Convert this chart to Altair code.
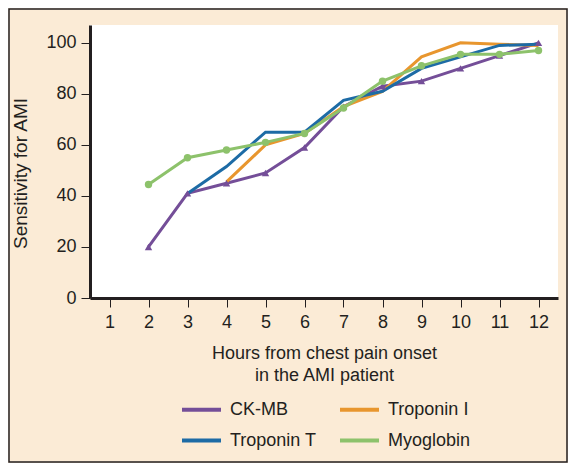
import altair as alt
import pandas as pd

hours = [1, 2, 3, 4, 5, 6, 7, 8, 9, 10, 11, 12]
ck_mb = [None, 20, 41, 45, 49, 59, 75, 83, 85, 90, 95, 100]
troponin_i = [None, None, None, 45.5, 60, 64.5, 75, 81, 94.5, 100, 99.5, 99]
troponin_t = [None, None, 41, 51.5, 65, 65, 77.5, 81, 90, 94.5, 99, 99.5]
myoglobin = [None, 44.5, 55, 58, 61, 64.5, 74.5, 85, 91, 95.5, 95.5, 97]

series_order = ["CK-MB", "Troponin I", "Troponin T", "Myoglobin"]
series_colors = ["#744E98", "#E8962E", "#1D6BA5", "#8DC26B"]

wide = pd.DataFrame({
    "hour": hours,
    "CK-MB": ck_mb,
    "Troponin I": troponin_i,
    "Troponin T": troponin_t,
    "Myoglobin": myoglobin,
})
data = wide.melt(id_vars="hour", var_name="series", value_name="value").dropna()

W, H = 468, 273
INK = "#231F20"
FONT = "Liberation Sans"

color_scale = alt.Scale(domain=series_order, range=series_colors)
x_enc = alt.X(
    "hour:Q",
    scale=alt.Scale(domain=[0.5, 12.5], nice=False),
    axis=alt.Axis(values=hours, title=["Hours from chest pain onset", "in the AMI patient"],
                  titlePadding=13, titleLineHeight=22, labelPadding=6),
)
y_enc = alt.Y(
    "value:Q",
    scale=alt.Scale(domain=[0, 107], nice=False),
    axis=alt.Axis(values=[0, 20, 40, 60, 80, 100], title="Sensitivity for AMI",
                  titleX=-60, titleY=148, titleFontSize=19, labelPadding=5),
)

lines = alt.Chart(data).mark_line(strokeWidth=3).encode(
    x=x_enc,
    y=y_enc,
    color=alt.Color(
        "series:N",
        scale=color_scale,
        sort=series_order,
        legend=alt.Legend(
            title=None, orient="none", legendX=90, legendY=363, columns=2,
            direction="horizontal",
            symbolType="stroke", symbolSize=1521, symbolStrokeWidth=4,
            labelFontSize=18, labelFont=FONT, labelColor=INK, labelOffset=7,
            columnPadding=15, rowPadding=-11,
        ),
    ),
    order="hour:Q",
)

points = alt.Chart(data).transform_filter(
    alt.FieldOneOfPredicate(field="series", oneOf=["CK-MB", "Myoglobin"])
).mark_point(filled=True, size=55, opacity=1).encode(
    x="hour:Q",
    y="value:Q",
    color=alt.Color("series:N", scale=color_scale, legend=None),
    shape=alt.Shape(
        "series:N",
        scale=alt.Scale(domain=["CK-MB", "Myoglobin"], range=["triangle-up", "circle"]),
        legend=None,
    ),
)

border = alt.Chart(pd.DataFrame({"k": [0]})).mark_rect(
    filled=False, stroke=INK, strokeWidth=1.5
).encode(
    x=alt.value(-81), x2=alt.value(W + 9), y=alt.value(-16), y2=alt.value(H + 164)
)

chart = (
    alt.layer(border, lines, points)
    .properties(
        width=W, height=H,
        autosize=alt.AutoSizeParams(type="none"),
        padding={"left": 82, "top": 17, "right": 10, "bottom": 165},
        background="#FBEBD6",
    )
    .configure_view(fill="white", stroke=None)
    .configure_axis(
        domainColor=INK, domainWidth=3, tickColor=INK, tickWidth=1, tickSize=9,
        labelFont=FONT, labelFontSize=18, labelColor=INK,
        titleFont=FONT, titleFontSize=18, titleFontWeight="normal", titleColor=INK,
        grid=False,
    )
)

chart.save("out.html", embed_options={"renderer": "svg", "actions": False})
